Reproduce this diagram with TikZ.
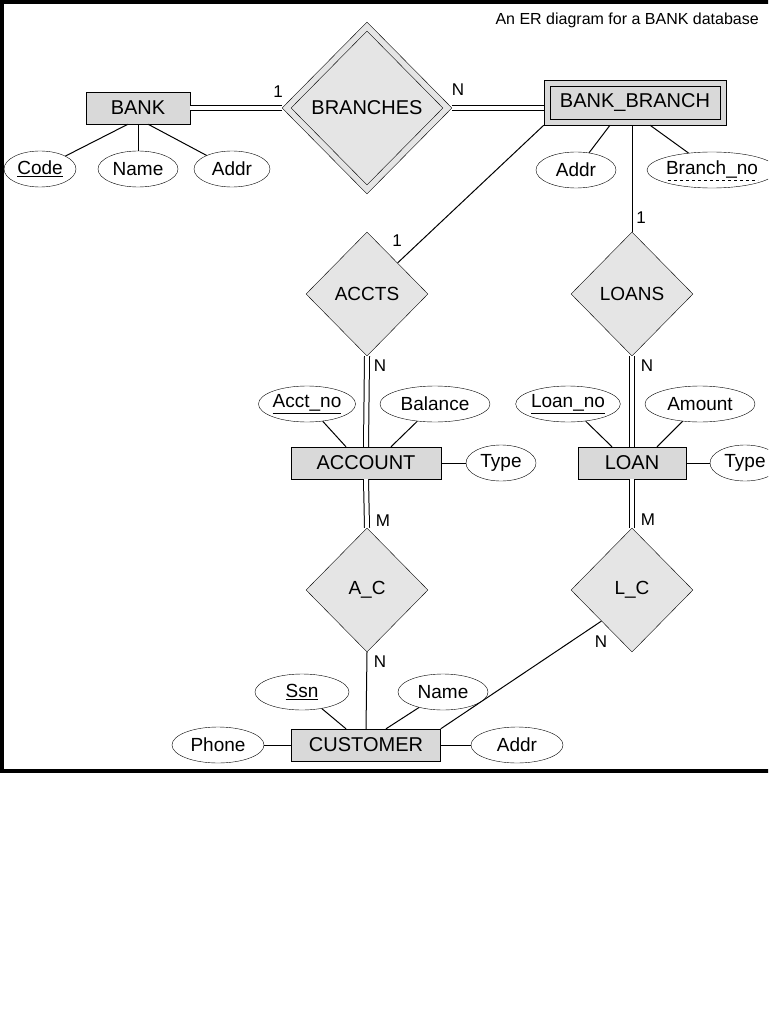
\documentclass[tikz,border=0pt]{standalone}
\usepackage{fontspec}
\setmainfont{Liberation Sans}
\usetikzlibrary{shapes.geometric}
\begin{document}
\begin{tikzpicture}[x=1pt,y=-1pt,
 ent/.style={draw,fill=gray!30,minimum height=32pt,inner sep=0pt,font=\fontsize{20}{20}\selectfont},
 att/.style={draw,ellipse,minimum height=36pt,inner sep=0pt,font=\fontsize{19}{19}\selectfont},
 rel/.style={draw,diamond,fill=gray!20,inner sep=0pt,minimum width=122pt,minimum height=124pt,aspect=1,font=\fontsize{19}{19}\selectfont},
 card/.style={font=\fontsize{17}{17}\selectfont},
 dbl/.style={double,double distance=4pt,line width=1pt},
 ln/.style={line width=1pt}]
\useasboundingbox (0,0) rectangle (768,1024);
\begin{scope}
\clip (0,0) rectangle (768,1024);
\draw[line width=4pt] (2,2) rectangle (772,771);
\node[anchor=west,font=\fontsize{16}{16}\selectfont] (title) at (492,20) {An ER diagram for a BANK database};
% entities
\node[ent,minimum width=104pt] (bank) at (138,108) {BANK};
\node[draw,fill=gray!30,minimum width=182pt,minimum height=45pt] (bbo) at (635,102.5) {};
\node[draw,fill=gray!30,minimum width=170pt,minimum height=33pt,inner sep=0pt,font=\fontsize{20}{20}\selectfont] (bb) at (635,102.5) {BANK\_BRANCH};
\node[ent,minimum width=150pt] (account) at (366,463) {ACCOUNT};
\node[ent,minimum width=108pt] (loan) at (632,463) {LOAN};
\node[ent,minimum width=149pt] (cust) at (366,745) {CUSTOMER};
% relationships
\node[draw,diamond,fill=gray!20,minimum width=170pt,minimum height=172pt,inner sep=0pt] (brso) at (367,108) {};
\node[draw,diamond,fill=gray!20,minimum width=152pt,minimum height=154pt,inner sep=0pt,font=\fontsize{20}{20}\selectfont] (brs) at (367,108) {BRANCHES};
\node[rel] (accts) at (367,294) {ACCTS};
\node[rel] (loans) at (632,294) {LOANS};
\node[rel] (ac) at (367,590) {A\_C};
\node[rel] (lc) at (632,590) {L\_C};
% attributes
\node[att,minimum width=72pt] (code) at (40,169) {\underline{Code}};
\node[att,minimum width=80pt] (bname) at (138,169) {Name};
\node[att,minimum width=76pt] (baddr) at (232,169) {Addr};
\node[att,minimum width=80pt] (bbaddr) at (576,170) {Addr};
\node[att,minimum width=128pt] (brno) at (712,170) {Branch\_no};
\draw[dashed,line width=0.8pt] (668,180) -- (758,180);
\node[att,minimum width=92pt] (acctno) at (307,404) {\underline{Acct\_no}};
\node[att,minimum width=110pt] (bal) at (435,404) {Balance};
\node[att,minimum width=70pt] (atype) at (501,463) {Type};
\node[att,minimum width=92pt] (loanno) at (568,404) {\underline{Loan\_no}};
\node[att,minimum width=110pt] (amt) at (700,404) {Amount};
\node[att,minimum width=70pt] (ltype) at (745,463) {Type};
\node[att,minimum width=94pt] (ssn) at (302,692) {\underline{Ssn}};
\node[att,minimum width=90pt] (cname) at (443,692) {Name};
\node[att,minimum width=92pt] (phone) at (218,745) {Phone};
\node[att,minimum width=92pt] (caddr) at (517,745) {Addr};
% connectors
\draw[dbl] (bank.east) -- (brso.west);
\draw[dbl] (brso.east) -- (brso.east -| bbo.west);
\draw[ln] ([xshift=-10pt]bank.south) -- (code);
\draw[ln] (bank.south) -- (bname);
\draw[ln] ([xshift=10pt]bank.south) -- (baddr);
\draw[ln] ([xshift=-25pt]bbo.south) -- (bbaddr);
\draw[ln] ([xshift=15pt]bbo.south) -- (brno);
\draw[ln] ([xshift=-3pt]bbo.south) -- (loans.north);
\draw[ln] (bbo.south west) -- (accts.north east);
\draw[dbl] (accts.south) -- (account.north);
\draw[dbl] (loans.south) -- (loan.north);
\draw[ln] ([xshift=-20pt]account.north) -- (acctno);
\draw[ln] ([xshift=25pt]account.north) -- (bal);
\draw[ln] (account.east) -- (atype);
\draw[ln] ([xshift=-20pt]loan.north) -- (loanno);
\draw[ln] ([xshift=25pt]loan.north) -- (amt);
\draw[ln] (loan.east) -- (ltype);
\draw[dbl] (account.south) -- (ac.north);
\draw[dbl] (loan.south) -- (lc.north);
\draw[ln] (ac.south) -- (cust.north);
\draw[ln] (lc.south west) -- (cust.north east);
\draw[ln] ([xshift=-20pt]cust.north) -- (ssn);
\draw[ln] ([xshift=20pt]cust.north) -- (cname);
\draw[ln] (cust.west) -- (phone);
\draw[ln] (cust.east) -- (caddr);
% cardinalities
\node[card] (c1) at (278,92) {1};
\node[card] (c2) at (458,90) {N};
\node[card] (c3) at (397,241) {1};
\node[card] (c4) at (641,218) {1};
\node[card] (c5) at (380,366) {N};
\node[card] (c6) at (647,366) {N};
\node[card] (c7) at (383,521) {M};
\node[card] (c8) at (648,520) {M};
\node[card] (c9) at (380,662) {N};
\node[card] (c10) at (601,642) {N};
\end{scope}
\end{tikzpicture}
\end{document}
